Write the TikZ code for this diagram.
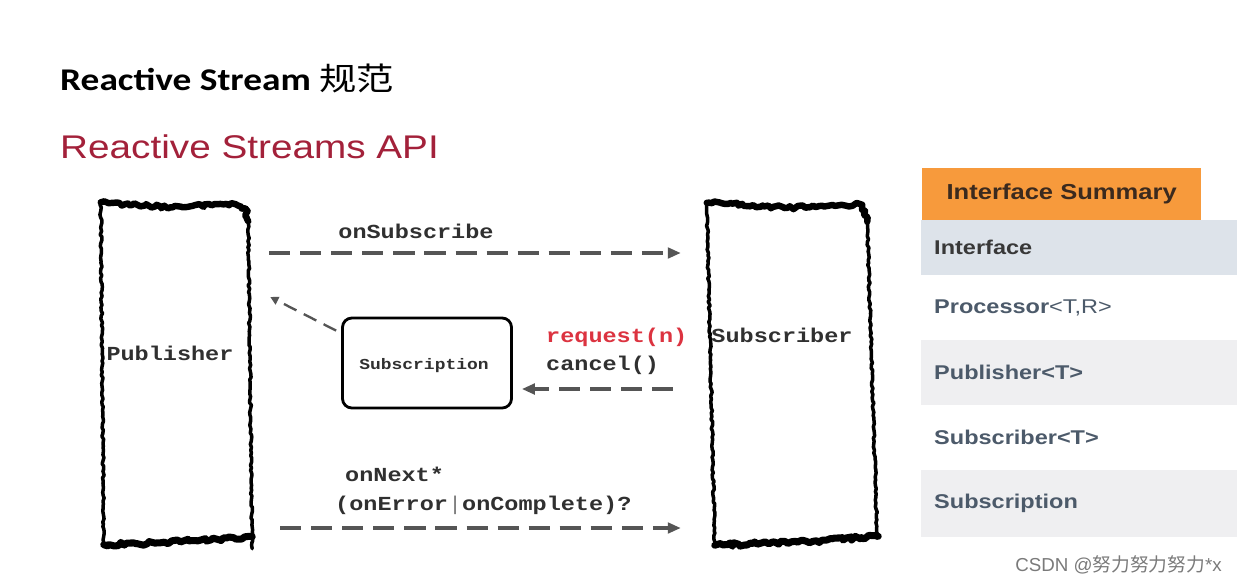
\documentclass[tikz,border=0pt]{standalone}
\usepackage{fontspec}
\setmainfont{Liberation Sans}
\newfontfamily\calibri{Carlito}
\newfontfamily\cjk{Noto Sans CJK SC}
\newfontfamily\monofam{Liberation Mono}
\usetikzlibrary{arrows.meta,decorations.pathmorphing,calc}
\newcommand{\hstretch}[1]{\scalebox{1.18}[1]{#1}}
\definecolor{apired}{HTML}{A3213A}
\definecolor{reqred}{HTML}{DC3340}
\definecolor{lbl}{HTML}{303030}
\definecolor{arr}{HTML}{555555}
\definecolor{hdr}{HTML}{F79A3C}
\definecolor{hdrtext}{HTML}{3B2A1E}
\definecolor{rowblue}{HTML}{DDE3EA}
\definecolor{rowgray}{HTML}{EFEFF1}
\definecolor{tbltext}{HTML}{4C5A6A}
\definecolor{wm}{HTML}{7A7A7A}
\begin{document}
\begin{tikzpicture}[x=0.03cm,y=-0.03cm,
  boxnode/.style={draw=none,inner sep=0pt},
  roughside/.style={line width=3pt,decorate,decoration={random steps,segment length=2.5pt,amplitude=0.8pt},line join=round,line cap=round},
  roughtop/.style={line width=5.5pt,decorate,decoration={random steps,segment length=2.5pt,amplitude=1.6pt},line join=round,line cap=round},
  roughbot/.style={line width=6pt,decorate,decoration={random steps,segment length=2.5pt,amplitude=1.6pt},line join=round,line cap=round},
  flow/.style={draw=arr,line width=2.6pt,dash pattern=on 18pt off 8.5pt,-{Triangle[length=11pt,width=9pt]}},
  flowsmall/.style={draw=arr,line width=2pt,dash pattern=on 12pt off 7pt,-{Triangle[length=7pt,width=7pt]}},
  mlabel/.style={inner sep=0pt,text=lbl,font=\monofam\bfseries\fontsize{17pt}{20pt}\selectfont},
  rowstyle/.style={anchor=north west,inner xsep=0.39cm,inner ysep=0pt,text width=8.7cm,align=left,minimum width=9.48cm,text=tbltext,font=\bfseries\fontsize{17pt}{20pt}\selectfont}
]
\useasboundingbox (0,0) rectangle (1237,583);
\fill[white] (0,0) rectangle (1237,583);
\pgfmathsetseed{4242}

% titles
\node[anchor=base west,inner sep=0pt] (title) at (60,90)
  {\hstretch{\fontsize{27pt}{31pt}\calibri\bfseries Reactive Stream {\cjk\mdseries 规范}}};
\node[anchor=base west,inner sep=0pt,text=apired] (api) at (60,158)
  {\hstretch{\fontsize{28pt}{33pt}\selectfont Reactive Streams API}};

% boxes
\node[boxnode,minimum width=4.5cm,minimum height=10.35cm] (pub) at (176,376) {};
\node[boxnode,minimum width=5.04cm,minimum height=10.26cm] (sub) at (792,377) {};
\node[draw=black,line width=2.4pt,rounded corners=8pt,minimum width=5.07cm,minimum height=2.7cm] (subn) at (427,363) {};

% rough borders of Publisher
\draw[roughtop] ([shift={(0,-1)}]pub.north west) -- ([shift={(70,4)}]pub.north west) -- ([shift={(135,1)}]pub.north west) -- ([shift={(-6,5)}]pub.north east) -- ([shift={(-3,18)}]pub.north east);
\draw[roughside] ([shift={(0,-1)}]pub.north west) -- ([shift={(3,-4)}]pub.south west);
\draw[roughside] ([shift={(-3,18)}]pub.north east) -- ([shift={(1,0)}]pub.south east);
\draw[roughbot] ([shift={(3,-4)}]pub.south west) -- ([shift={(60,-6)}]pub.south west) -- ([shift={(1,-12)}]pub.south east);
% rough borders of Subscriber
\draw[roughtop] ([shift={(-1,-3)}]sub.north west) -- ([shift={(80,2)}]sub.north west) -- ([shift={(-14,-1)}]sub.north east) -- ([shift={(-9,16)}]sub.north east);
\draw[roughside] ([shift={(-1,-3)}]sub.north west) -- ([shift={(7,-3)}]sub.south west);
\draw[roughside] ([shift={(-9,16)}]sub.north east) -- ([shift={(1,-10)}]sub.south east);
\draw[roughbot] ([shift={(7,-3)}]sub.south west) -- ([shift={(90,-6)}]sub.south west) -- ([shift={(2,-12)}]sub.south east);

% box texts
\node[mlabel,anchor=base] (pubtext) at (170,360) {\hstretch{Publisher}};
\node[mlabel,anchor=base] (subtext) at (782,342) {\hstretch{Subscriber}};
\node[mlabel,anchor=base,font=\monofam\bfseries\fontsize{13pt}{15pt}\selectfont] (subntext) at (424,369) {\hstretch{Subscription}};

% connectors
\draw[flow] ([shift={(18,-123)}]pub.east) -- ([shift={(-27,-124)}]sub.west);
\draw[flow] ([shift={(-35,12)}]sub.west) -- ([shift={(9,26)}]subn.east);
\draw[flowsmall] ([shift={(-5,14)}]subn.north west) -- ([shift={(19,-79)}]pub.east);
\draw[flow] ([shift={(29,152)}]pub.east) -- ([shift={(-27,151)}]sub.west);

% connector labels
\node[mlabel,anchor=base] (lonsub) at (416,238) {\hstretch{onSubscribe}};
\node[mlabel,anchor=base west,text=reqred] (lreq) at (546,342) {\hstretch{request(n)}};
\node[mlabel,anchor=base west] (lcancel) at (546,370) {\hstretch{cancel()}};
\node[mlabel,anchor=base west] (lnext) at (345,481) {\hstretch{onNext*}};
\node[mlabel,anchor=base west] (lerr) at (335,510) {\hstretch{(onError{\mdseries\color{gray}|}onComplete)?}};

% interface summary table
\node[anchor=north west,fill=hdr,minimum width=8.37cm,minimum height=1.56cm,inner sep=0pt,text=hdrtext,font=\bfseries\fontsize{18.5pt}{21pt}\selectfont] (hdrnode) at (922,168) {\hstretch{Interface Summary}};
\node[rowstyle,fill=rowblue,minimum height=1.65cm,text=black!78] (r0) at (921,220) {\hstretch{Interface}};
\node[rowstyle,fill=white,minimum height=1.95cm] (r1) at (921,275) {\hstretch{Processor{\mdseries <T,R>}}};
\node[rowstyle,fill=rowgray,minimum height=1.95cm] (r2) at (921,340) {\hstretch{Publisher<T>}};
\node[rowstyle,fill=white,minimum height=1.95cm] (r3) at (921,405) {\hstretch{Subscriber<T>}};
\node[rowstyle,fill=rowgray,minimum height=2.01cm] (r4) at (921,470) {\hstretch{Subscription}};

% watermark
\node[anchor=east,inner sep=0pt,text=wm,font=\fontsize{16pt}{18pt}\selectfont] (wmark) at (1222,565) {CSDN @{\cjk 努力努力努力}*x};
\end{tikzpicture}
\end{document}
